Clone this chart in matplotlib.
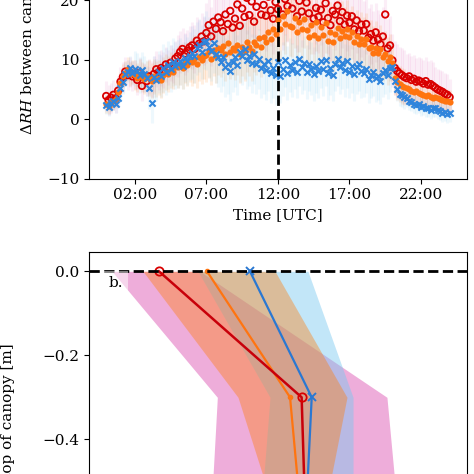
import matplotlib
matplotlib.use("Agg")
import numpy as np
import matplotlib.pyplot as plt

plt.rcParams['font.family'] = ['DejaVu Serif']
plt.rcParams['font.size'] = 11
plt.rcParams['mathtext.fontset'] = 'dejavuserif'

# ---------------- top panel data (10-min samples, hours 0..24) ----------------
time_hours = np.linspace(0, 24, 145)

blue_vals = [
    2.4, 2.1, 2.8, 3.0, 2.6, 3.6,
    5.2, 6.3, 7.6, 8.0, 8.6, 7.8,
    8.5, 8.1, 7.4, 8.3, 7.6, 6.9,
    5.2, 2.8, 7.1, 6.6, 7.9, 7.3,
    8.6, 8.0, 9.1, 8.5, 9.6, 9.0,
    9.3, 9.7, 9.0, 10.3, 9.8, 10.6,
    11.2, 10.6, 11.9, 12.4, 11.3, 12.9,
    13.2, 12.1, 11.4, 12.8, 11.0, 10.4,
    9.6, 10.5, 8.7, 9.2, 8.1, 9.6,
    10.4, 9.1, 11.3, 10.7, 11.8, 10.0,
    10.6, 9.4, 10.9, 9.2, 10.1, 8.6,
    9.3, 8.2, 9.7, 7.8, 8.6, 7.4,
    9.6, 7.2, 8.4, 9.9, 7.8, 9.1,
    8.3, 9.6, 8.0, 10.1, 8.8, 9.4,
    7.9, 9.2, 8.5, 7.6, 8.9, 8.1,
    9.7, 8.4, 10.0, 7.8, 8.6, 7.5,
    9.2, 10.1, 8.7, 9.5, 8.2, 9.8,
    8.0, 8.9, 7.6, 8.7, 9.3, 8.1,
    7.7, 8.4, 6.8, 7.5, 7.9, 6.9,
    7.2, 6.5, 7.8, 8.3, 7.4, 8.6,
    8.7, 6.4, 5.1, 4.3, 4.0, 3.7,
    3.5, 3.1, 2.9, 2.6, 2.4, 2.5,
    2.1, 2.2, 1.8, 1.9, 1.6, 1.9,
    1.8, 1.5, 1.3, 1.0, 1.2, 0.9,
    1.0,
]

orange_vals = [
    2.6, 2.3, 2.9, 3.1, 3.4, 4.6,
    6.0, 7.2, 7.8, 8.4, 7.6, 7.9,
    7.4, 7.0, 7.6, 7.1, 6.8, 7.3,
    6.9, 6.5, 7.2, 6.7, 7.0, 6.6,
    7.4, 7.9, 7.6, 8.3, 8.0, 8.7,
    8.8, 9.2, 8.6, 9.5, 9.1, 9.8,
    9.6, 10.1, 9.3, 10.5, 9.9, 10.7,
    10.8, 11.4, 10.2, 11.7, 10.6, 11.9,
    11.6, 12.3, 10.9, 12.8, 11.3, 12.0,
    11.6, 12.5, 11.0, 12.2, 11.4, 12.9,
    12.2, 11.5, 13.0, 12.4, 13.6, 12.1,
    13.8, 12.9, 14.6, 13.5, 15.2, 14.3,
    16.6, 15.1, 17.4, 16.0, 18.2, 15.7,
    15.5, 17.0, 14.6, 16.3, 15.1, 16.9,
    15.0, 13.8, 15.9, 14.2, 16.4, 13.6,
    15.5, 14.1, 16.2, 13.2, 14.7, 12.9,
    14.4, 15.3, 13.6, 14.9, 13.9, 15.1,
    13.8, 14.6, 13.0, 13.9, 12.7, 13.5,
    12.7, 13.4, 11.9, 12.2, 11.1, 12.0,
    11.1, 11.8, 10.5, 10.9, 9.8, 10.4,
    9.4, 7.0, 6.2, 5.9, 5.6, 5.4,
    5.2, 5.0, 4.8, 4.6, 4.7, 4.4,
    4.3, 4.1, 3.9, 4.0, 3.8, 3.6,
    3.8, 3.5, 3.4, 3.2, 3.0, 3.1,
    2.9,
]

red_vals = [
    3.9, 3.2, 3.6, 4.1, 3.5, 4.8,
    6.3, 7.1, 8.0, 7.4, 7.9, 7.2,
    7.5, 6.6, 7.8, 5.6, 7.0, 6.4,
    7.2, 6.8, 7.6, 8.4, 7.9, 8.6,
    8.3, 9.2, 8.7, 9.5, 9.0, 10.2,
    10.6, 11.3, 11.8, 11.0, 11.5, 12.1,
    12.4, 11.8, 13.2, 12.7, 13.9, 13.1,
    14.5, 15.8, 13.9, 16.4, 15.2, 17.1,
    16.3, 14.8, 17.6, 16.0, 18.2, 15.4,
    16.9, 19.3, 15.7, 18.6, 17.2, 20.4,
    17.5, 19.8, 16.4, 18.9, 21.0, 17.6,
    19.2, 17.4, 20.6, 18.3, 16.9, 19.7,
    18.5, 21.3, 17.6, 20.2, 19.0, 22.0,
    18.6, 20.7, 17.3, 19.9, 18.1, 21.4,
    19.6, 17.8, 20.9, 16.9, 18.7, 17.2,
    18.4, 16.3, 19.5, 17.0, 15.8, 18.2,
    17.6, 19.1, 16.5, 18.0, 15.9, 17.4,
    16.2, 17.3, 15.1, 16.6, 14.8, 15.9,
    14.9, 16.0, 13.7, 14.3, 13.2, 14.6,
    13.4, 12.6, 13.9, 17.6, 11.9, 12.4,
    9.9, 8.6, 8.1, 7.7, 7.4, 7.1,
    6.9, 7.2, 6.6, 6.8, 6.3, 6.5,
    6.3, 6.0, 6.4, 5.8, 5.9, 5.6,
    5.3, 5.0, 4.8, 4.6, 4.3, 4.1,
    3.7,
]

# hourly half-width of the spread shown as faint vertical streaks
red_spread = [2.5, 2.5, 2.5, 3, 3, 3.5, 4, 5, 5.5, 6, 6, 6, 6, 6, 6, 6, 6, 5.5, 5, 5, 4.5, 4, 4, 3.5, 3]
orange_spread = [1.5, 2, 2.5, 3, 3, 3.5, 4, 4.5, 4.5, 5, 5, 5, 5, 5, 5, 5, 5, 4.5, 4.5, 4, 3, 2.5, 2, 2, 2]
blue_spread = [1.5, 2, 3, 3.5, 4, 4, 4.5, 5, 5, 5, 5, 5, 4.5, 4.5, 4.5, 4.5, 4.5, 4.5, 4, 4, 2, 1.5, 1.5, 1.5, 1.5]

time_ticks = [2, 7, 12, 17, 22]
time_ticklabels = ["02:00", "07:00", "12:00", "17:00", "22:00"]

# ---------------- bottom panel data ----------------
depth_levels = [0.0, -0.3, -0.6, -0.9]
red_profile = [5.58, 16.90, 17.21, 17.3]
orange_profile = [9.39, 15.98, 16.90, 17.1]
blue_profile = [12.80, 17.70, 17.21, 17.0]
red_lo = [1.85, 10.21, 9.66, 9.5]
red_hi = [8.83, 23.67, 24.60, 24.8]
orange_lo = [4.31, 11.85, 15.03, 15.2]
orange_hi = [14.79, 20.50, 18.52, 18.4]
blue_lo = [8.67, 14.39, 13.60, 13.5]
blue_hi = [17.40, 20.98, 20.98, 21.0]

RED = '#d90000'
RED_LINE = '#c8000a'
ORANGE = '#ff7410'
BLUE = '#2e84dc'
BLUE_LINE = '#2a78d2'
PINK = '#e377c2'
SKY = '#78c8f0'
ORANGE_BAND = '#ff7f0e'

fig = plt.figure(figsize=(4.74, 4.74), dpi=100)

# ---------------- top panel ----------------
ax1 = fig.add_axes([0.1878, 0.6230, 0.7970, 0.5021])
hidx = np.floor(time_hours).astype(int)
for vals, spread, col in [(red_vals, red_spread, PINK),
                          (orange_vals, orange_spread, ORANGE_BAND),
                          (blue_vals, blue_spread, SKY)]:
    v = np.array(vals)
    s = np.array(spread)[hidx]
    ax1.vlines(time_hours, v - s, v + s, color=col, alpha=0.12, lw=2.2, zorder=1)

ax1.scatter(time_hours, red_vals, s=22, facecolors='none', edgecolors=RED, linewidths=1.3, zorder=3)
ax1.scatter(time_hours, orange_vals, s=20, color=ORANGE, linewidths=0, zorder=4)
ax1.scatter(time_hours, blue_vals, s=20, marker='x', color=BLUE, linewidths=1.5, zorder=5)
ax1.axvline(12, color='black', ls='--', lw=2, zorder=6)
ax1.set_ylim(-10, 30)
ax1.set_xticks(time_ticks)
ax1.set_xticklabels(time_ticklabels)
ax1.set_xlabel("Time [UTC]")
ax1.set_ylabel(r"$\Delta RH$ between canopy and air [%]", loc='bottom')
ax1.yaxis.set_label_coords(-0.1364, 0.1836)

# ---------------- bottom panel ----------------
ax2 = fig.add_axes([0.1871, 0.4677 - 0.8772, 0.7975, 0.8772])
ax2.fill_betweenx(depth_levels, red_lo, red_hi, color=PINK, alpha=0.6, lw=0, zorder=1)
ax2.fill_betweenx(depth_levels, blue_lo, blue_hi, color=SKY, alpha=0.45, lw=0, zorder=1)
ax2.fill_betweenx(depth_levels, orange_lo, orange_hi, color=ORANGE_BAND, alpha=0.4, lw=0, zorder=1)
ax2.plot(orange_profile, depth_levels, color=ORANGE, lw=1.6, marker='.', ms=6, zorder=3)
ax2.plot(red_profile, depth_levels, color=RED_LINE, lw=1.8, marker='o', ms=6,
         mfc='none', mec=RED, mew=1.3, zorder=4)
ax2.plot(blue_profile, depth_levels, color=BLUE_LINE, lw=1.6, marker='x', ms=6, mew=1.4, zorder=4)
ax2.axhline(0, color='black', ls='--', lw=2, zorder=5)
ax2.set_xlim(0, 30)
ax2.set_ylim(-0.945, 0.0453)
ax2.text(0.052, 0.943, "b.", transform=ax2.transAxes, ha='left', va='top', zorder=6,
         bbox=dict(boxstyle='square,pad=0.35', facecolor='white', alpha=0.5, edgecolor='none'))
ax2.set_ylabel("Depth from top of canopy [m]", loc='top')
ax2.yaxis.set_label_coords(-0.196, 0.7819)

fig.savefig("out.png", dpi=100)
